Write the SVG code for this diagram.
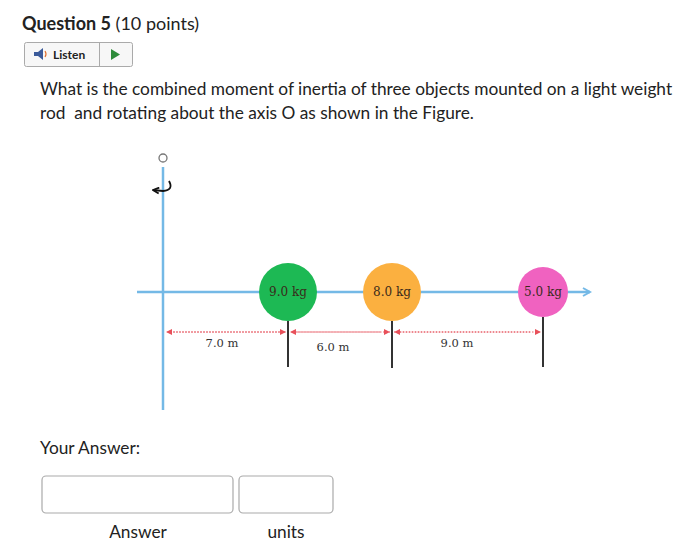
<svg xmlns="http://www.w3.org/2000/svg" width="700" height="552" viewBox="0 0 700 552">
<defs>
<style>
.ui{font-family:Lato,"Liberation Sans",sans-serif;fill:#222}
.body{font-size:17.3px;white-space:pre}
.lbl{font-family:"DejaVu Serif","Liberation Serif",serif;font-size:11.5px;fill:#333;text-anchor:middle}
.kg{font-family:"DejaVu Serif","Liberation Serif",serif;font-size:12px;fill:#3a2a1a;text-anchor:middle}
.axis{stroke:#74b9e6;stroke-width:2.5;fill:none}
.pin{stroke:#333;stroke-width:2}
.dim{stroke:#e8606a;stroke-width:1;stroke-dasharray:1.5 1.5}
.box{fill:#fff;stroke:#aaa;stroke-width:1.2}
</style>
<marker id="ra" viewBox="0 0 6 6" refX="6" refY="3" markerWidth="6" markerHeight="6" orient="auto" markerUnits="userSpaceOnUse"><path d="M0,0 L6,3 L0,6 z" fill="#e8505a"/></marker>
<marker id="ba" viewBox="0 0 10 10" refX="8" refY="5" markerWidth="10" markerHeight="10" orient="auto" markerUnits="userSpaceOnUse"><path d="M1,1 L8,5 L1,9" fill="none" stroke="#74b9e6" stroke-width="2"/></marker>
<marker id="ka" viewBox="0 0 8 8" refX="7" refY="4" markerWidth="8" markerHeight="8" orient="auto" markerUnits="userSpaceOnUse"><path d="M1,1 L7,4 L1,7" fill="none" stroke="#111" stroke-width="1.8"/></marker>
</defs>
<rect width="700" height="552" fill="#fff"/>
<g id="header">
<text x="22" y="30" class="ui" font-size="18"><tspan font-weight="bold">Question 5</tspan> (10 points)</text>
<rect x="24.5" y="42.5" width="108" height="24" rx="2" fill="#f7f7f7" stroke="#aaa"/>
<line x1="99.5" y1="43" x2="99.5" y2="66" stroke="#aaa"/>
<path d="M34,52 L38,52 L43,48 L43,60 L38,56 L34,56 z" fill="#3b5a9a"/>
<path d="M45,51 Q47,54 45,57" fill="none" stroke="#e07030" stroke-width="1.2"/>
<text x="53" y="59" class="ui" font-size="12" font-weight="bold">Listen</text>
<path d="M111,49 L120,54.5 L111,60 z" fill="#2e8b3a"/>
</g>
<g id="question">
<text x="40" y="95" class="ui body">What is the combined moment of inertia of three objects mounted on a light weight</text>
<text x="40" y="119" class="ui body">rod  and rotating about the axis O as shown in the Figure.</text>
</g>
<g id="axis">
<circle cx="163" cy="158" r="4" fill="none" stroke="#777" stroke-width="1.3"/>
<line x1="163" y1="167" x2="163" y2="410" class="axis"/>
<path d="M169,181 Q174,190 163,191 L153,190" fill="none" stroke="#111" stroke-width="1.8" marker-end="url(#ka)"/>
</g>
<g id="connectors">
<line x1="137" y1="292" x2="590" y2="292" class="axis" marker-end="url(#ba)"/>
<line x1="288" y1="321" x2="288" y2="367" class="pin"/>
<line x1="392" y1="321" x2="392" y2="368" class="pin"/>
<line x1="543" y1="317" x2="543" y2="367" class="pin"/>
<line x1="173" y1="332" x2="286" y2="332" class="dim" marker-end="url(#ra)"/>
<line x1="280" y1="332" x2="166" y2="332" class="dim" marker-end="url(#ra)"/>
<line x1="296" y1="332" x2="390" y2="332" class="dim" marker-end="url(#ra)"/>
<line x1="380" y1="332" x2="290" y2="332" class="dim" marker-end="url(#ra)"/>
<line x1="400" y1="332" x2="541" y2="332" class="dim" marker-end="url(#ra)"/>
<line x1="530" y1="332" x2="394" y2="332" class="dim" marker-end="url(#ra)"/>
<text x="222" y="347" class="lbl">7.0 m</text>
<text x="333" y="351" class="lbl">6.0 m</text>
<text x="457" y="347" class="lbl">9.0 m</text>
</g>
<g id="m9">
<circle cx="288" cy="292" r="29" fill="#1db954"/>
<text x="288" y="296" class="kg">9.0 kg</text>
</g>
<g id="m8">
<circle cx="392" cy="292" r="29" fill="#fbb040"/>
<text x="392" y="296" class="kg">8.0 kg</text>
</g>
<g id="m5">
<circle cx="543" cy="292" r="25" fill="#f062c0"/>
<text x="543" y="296" class="kg">5.0 kg</text>
</g>
<g id="answer">
<text x="40" y="454" class="ui body">Your Answer:</text>
<rect x="42" y="476" width="191" height="37" rx="4" class="box"/>
<rect x="239" y="476" width="94" height="37" rx="4" class="box"/>
<text x="138" y="538" class="ui body" text-anchor="middle">Answer</text>
<text x="286" y="538" class="ui body" text-anchor="middle">units</text>
</g>
</svg>
